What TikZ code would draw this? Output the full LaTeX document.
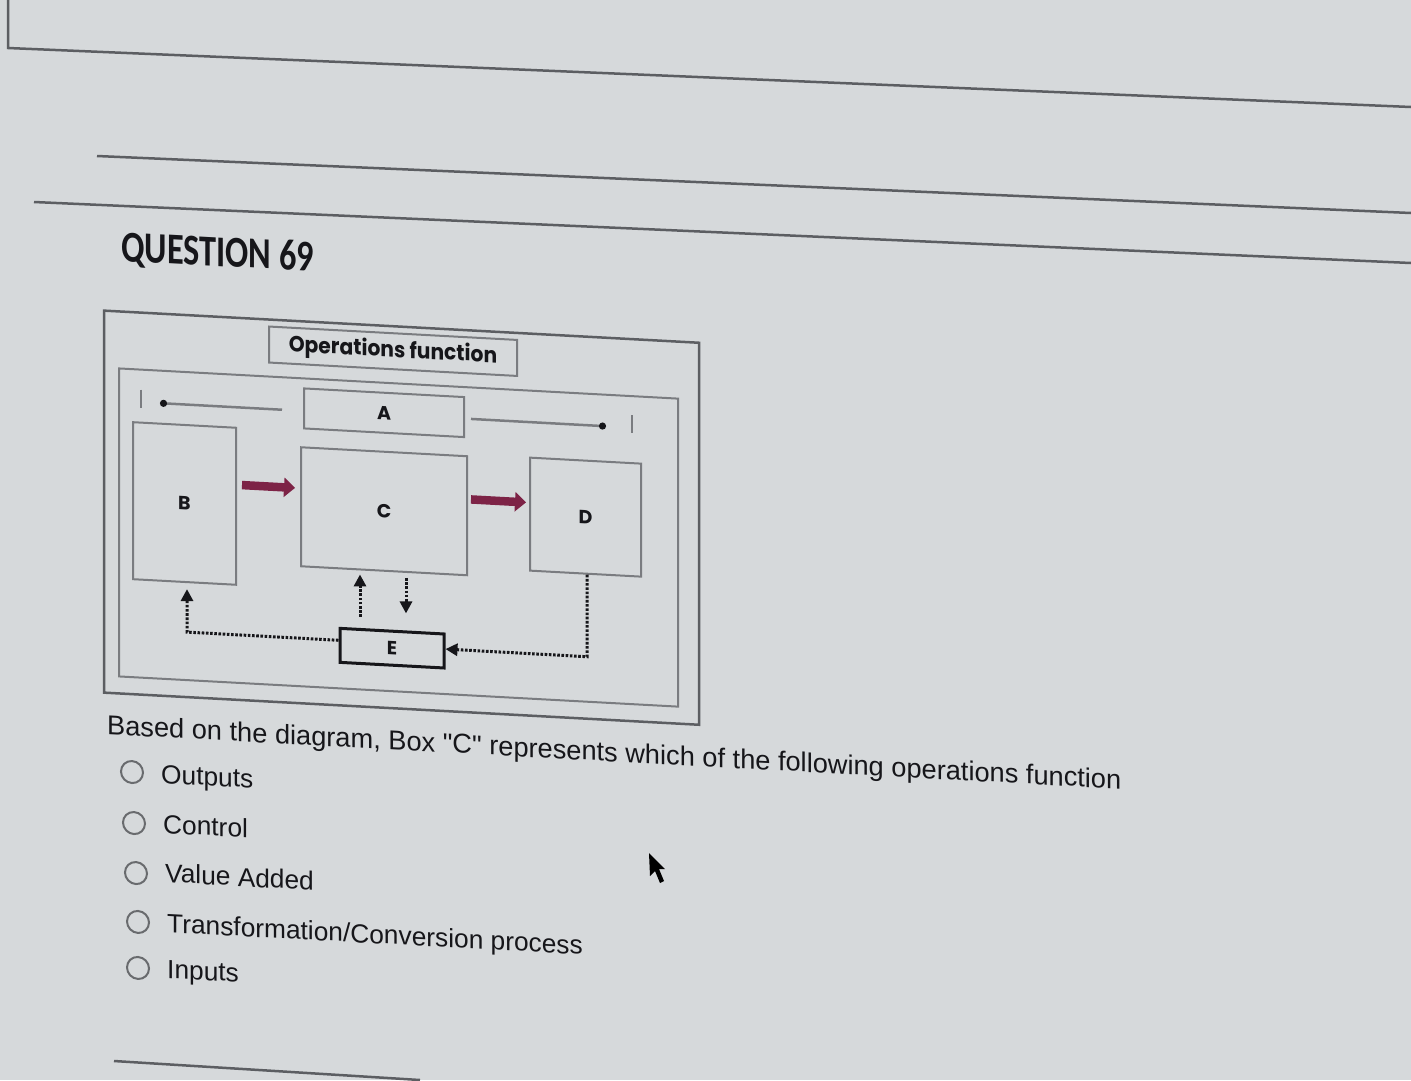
\documentclass[tikz,border=0pt]{standalone}
\usepackage{fontspec}
\setmainfont{Liberation Sans}
\newfontfamily\gothicfont{Poppins}
\newfontfamily\headfont{Carlito}
\usetikzlibrary{arrows.meta}
\definecolor{screen}{RGB}{214,217,219}
\definecolor{frame}{RGB}{92,94,98}
\definecolor{boxline}{RGB}{122,124,128}
\definecolor{maroon}{RGB}{125,35,70}
\definecolor{ink}{RGB}{22,22,26}
\definecolor{radioline}{RGB}{105,107,110}
\tikzset{
  opbox/.style={draw=boxline, line width=2pt, inner sep=0pt, text=ink,
    font=\gothicfont\bfseries\fontsize{19}{22}\selectfont},
  flow/.style={maroon, line width=8.5pt, -{Triangle[length=11pt,width=19pt]}},
  feedback/.style={ink, line width=3pt, dash pattern=on 2.6pt off 1.6pt,
    -{Triangle[length=12pt,width=12pt]}},
  dotarrow/.style={boxline, line width=2.5pt, -{Circle[length=7pt,color=ink]}},
  tickmark/.style={boxline, line width=2.5pt},
  pageline/.style={frame, line width=2.5pt},
  radio/.style={circle, draw=radioline, line width=2pt, minimum size=22pt, inner sep=0pt},
  choicetext/.style={anchor=base west, text=ink, inner sep=0pt,
    font=\fontsize{26.3}{30}\selectfont}
}
\newcommand{\opnode}[6]{\node[opbox, minimum width=#4pt, minimum height=#5pt] (#1) at (#2,#3) {#6};}
\newcommand{\choice}[5]{\node[radio] (#1) at (#2,#3) {};
  \node[choicetext] (#1txt) at (#2+29,#4) {#5};}
\newcommand{\straightquote}{\XeTeXglyph\XeTeXcharglyph"22\relax}

\begin{document}
\begin{tikzpicture}[x=1pt, y=-1pt]
  \fill[screen] (0,0) rectangle (1411,1080);
  \useasboundingbox (0,0) rectangle (1411,1080);
  % page lines
  \draw[pageline] (8,0) -- (8,48) -- (1411,107);
  \draw[pageline] (97,156) -- (1411,213);
  \draw[pageline] (34,202) -- (1411,263);
  \draw[pageline] (114,1061) -- (420,1080);
  % cursor
  \fill[black] (649,853) -- (650,876) -- (655,871) -- (660,883) -- (664,881)
    -- (659,869) -- (665,869) -- cycle;
  \begin{scope}[yslant=-0.054, transform shape]
    \node[anchor=base west, inner sep=0pt, text=ink, xscale=0.78,
      font=\headfont\bfseries\fontsize{44}{50}\selectfont] (title) at (121,254.5) {QUESTION 69};
    % frames
    \draw[frame, line width=2.5pt] (104,305) rectangle (699,687);
    \draw[boxline, line width=2pt] (119,362) rectangle (678,670);
    \node[draw=boxline, line width=2pt, minimum width=248pt, minimum height=36pt,
      text=ink, font=\gothicfont\bfseries\fontsize{22}{26}\selectfont] (ops) at (393,330)
      {\scalebox{0.92}[1]{Operations function}};
    % boxes
    \opnode{A}{384}{392}{160}{40}{A}
    \opnode{B}{184.5}{493.5}{103}{157}{B}
    \opnode{C}{384}{490.5}{166}{119}{C}
    \opnode{D}{585.5}{485.5}{111}{113}{D}
    \node[opbox, draw=ink, line width=3pt, minimum width=104pt, minimum height=34pt] (E) at (392,627) {E};
    % top arrows
    \coordinate (lend) at (160,394.5);
    \coordinate (rend) at (606,393.5);
    \draw[dotarrow] ([xshift=-21pt,yshift=-2.5pt]A.west) -- (lend);
    \draw[dotarrow] ([xshift=6pt,yshift=-1.5pt]A.east) -- (rend);
    \draw[tickmark] (141,382) -- (141,400);
    \draw[tickmark] (632,381) -- (632,399);
    % main flow
    \draw[flow] ([xshift=5pt,yshift=21.5pt]B.east) -- ([xshift=-5pt,yshift=18.5pt]C.west);
    \draw[flow] ([xshift=3pt,yshift=16.5pt]C.east) -- ([xshift=-3pt,yshift=11.5pt]D.west);
    % feedback
    \draw[feedback] ([yshift=5pt]E.west) -| ([xshift=2.5pt,yshift=-6pt]B.south);
    \draw[feedback] ([xshift=-32pt,yshift=11pt]E.north) -- ([xshift=-24pt,yshift=-4pt]C.south);
    \draw[feedback] ([xshift=22pt,yshift=-5pt]C.south) -- ([xshift=14pt,yshift=17pt]E.north);
    \draw[feedback] ([xshift=1.5pt]D.south) |- ([yshift=2pt]E.east);
    % question
    \node[anchor=base west, inner sep=0pt, text=ink,
      font=\fontsize{27.2}{32}\selectfont] (question) at (107,728.5)
      {Based on the diagram, Box \straightquote C\straightquote{} represents which of the following operations function};
    \choice{c1}{132}{764.9}{774.3}{Outputs}
    \choice{c2}{134}{815.8}{824.3}{Control}
    \choice{c3}{136}{865.7}{873.2}{Value Added}
    \choice{c4}{138}{914.5}{923.2}{Transformation/Conversion process}
    \choice{c5}{138}{960.5}{969.1}{Inputs}
  \end{scope}
\end{tikzpicture}
\end{document}
